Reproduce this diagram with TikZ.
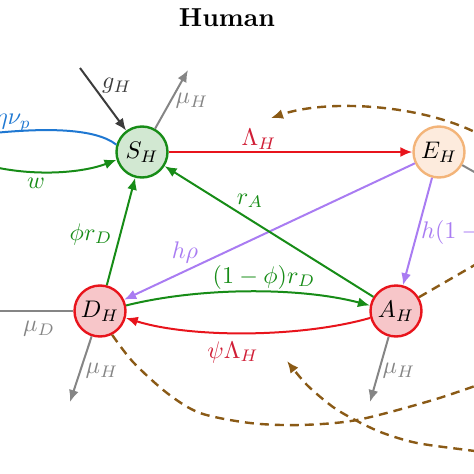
\documentclass[tikz,border=0pt]{standalone}
\usepackage{graphicx}
\usetikzlibrary{arrows.meta}
\definecolor{cgreen}{HTML}{178C17}
\definecolor{cred}{HTML}{E8141C}
\definecolor{clabred}{HTML}{D01E36}
\definecolor{cblue}{HTML}{1F78D2}
\definecolor{cpurple}{HTML}{A97CF2}
\definecolor{cgrey}{HTML}{858585}
\definecolor{cdark}{HTML}{3C3C3C}
\definecolor{cbrown}{HTML}{8A5A16}
\definecolor{sfill}{HTML}{D2E8D2}
\definecolor{efill}{HTML}{FDEBDD}
\definecolor{eborder}{HTML}{F3B479}
\definecolor{rfill}{HTML}{F7C6C9}
\newcommand\lblbig[1]{\scalebox{2.4}{#1}}
\begin{document}
\begin{tikzpicture}[x=1pt,y=-1pt,
  comp/.style={circle,minimum size=51pt,inner sep=0pt,line width=2.4pt},
  lab/.style={inner sep=0pt},
  flow/.style={line width=2pt,-{Latex[length=12pt,width=10pt]}},
  plain/.style={line width=2pt},
  dsh/.style={line width=2.4pt,cbrown,dash pattern=on 9pt off 6pt}]
\useasboundingbox (0,0) rectangle (474,474);
\node (title) at (227,18) {\scalebox{2.6}{\bfseries Human}};
\node[comp,draw=cgreen,fill=sfill] (S) at (142,152) {\lblbig{$S_H$}};
\node[comp,draw=eborder,fill=efill] (E) at (439,152) {\lblbig{$E_H$}};
\node[comp,draw=cred,fill=rfill] (D) at (100,311) {\lblbig{$D_H$}};
\node[comp,draw=cred,fill=rfill] (A) at (396,311) {\lblbig{$A_H$}};
% free ends
\coordinate (g0) at (80,68);
\coordinate (muS) at (188,70);
\coordinate (bl) at (-6,133);
\coordinate (wl) at (-6,167);
\coordinate (muD) at (-10,311);
\coordinate (muDH) at (70,402);
\coordinate (muAH) at (370,402);
\coordinate (muE) at (492,182);
\coordinate (topd) at (486,138);
\coordinate (ad) at (492,255);
% inflows and outflows of S
\draw[flow,cdark] (g0) -- (S);
\node[lab,cdark] (lg) at (117,86) {\lblbig{$g_H$}};
\draw[flow,cgrey] (S) -- (muS);
\node[lab,cgrey] (lmuS) at (192,101) {\lblbig{$\mu_H$}};
\draw[plain,cblue] (S.164) .. controls (95,128) and (45,128) .. (bl);
\node[lab,cblue] (lbl) at (13,123) {\lblbig{$\eta\nu_p$}};
\draw[flow,cgreen] (wl) .. controls (40,177) and (85,172) .. (S.197);
\node[lab,cgreen] (lw) at (36,183) {\lblbig{$w$}};
% main flows
\draw[flow,cred] (S) -- (E);
\node[lab,clabred] (lL) at (259,139) {\lblbig{$\Lambda_H$}};
\draw[flow,cpurple] (E) -- (A);
\node[lab,cpurple,anchor=west] (lh1) at (421,232) {\lblbig{$h(1-\rho)$}};
\draw[flow,cpurple] (E) -- (D);
\node[lab,cpurple] (lhr) at (185,252) {\lblbig{$h\rho$}};
\draw[flow,cgreen] (A) -- (S);
\node[lab,cgreen] (lrA) at (250,201) {\lblbig{$r_A$}};
\draw[flow,cgreen] (D) -- (S);
\node[lab,cgreen] (lphi) at (91,234) {\lblbig{$\phi r_D$}};
\draw[flow,cgreen] (D.12) .. controls (200,287) and (300,287) .. (A.168);
\node[lab,cgreen] (l1phi) at (264,277) {\lblbig{$(1-\phi)r_D$}};
\draw[flow,cred] (A.195) .. controls (300,338) and (190,338) .. (D.345);
\node[lab,clabred] (lpsi) at (233,352) {\lblbig{$\psi\Lambda_H$}};
% deaths
\draw[plain,cgrey] (D) -- (muD);
\node[lab,cgrey] (lmuD) at (39,329) {\lblbig{$\mu_D$}};
\draw[flow,cgrey] (D) -- (muDH);
\node[lab,cgrey] (lmuDH) at (102,371) {\lblbig{$\mu_H$}};
\draw[flow,cgrey] (A) -- (muAH);
\node[lab,cgrey] (lmuAH) at (399,371) {\lblbig{$\mu_H$}};
\draw[plain,cgrey] (E) -- (muE);
% dashed couplings
\draw[dsh,-{Latex[length=12pt,width=10pt]}] (topd) .. controls (430,105) and (330,98) .. (271,118);
\draw[dsh] plot[smooth] coordinates {(D.-63) (133,362) (167,393) (200,413) (250,423) (300,425) (357,420) (433,400) (492,380)};
\draw[dsh,-{Latex[length=12pt,width=10pt]}] plot[smooth] coordinates {(492,453) (467,450) (417,443) (383,433) (357,421) (333,407) (307,385) (287,361)};
\draw[dsh] (A.31) -- (ad);
\end{tikzpicture}
\end{document}
